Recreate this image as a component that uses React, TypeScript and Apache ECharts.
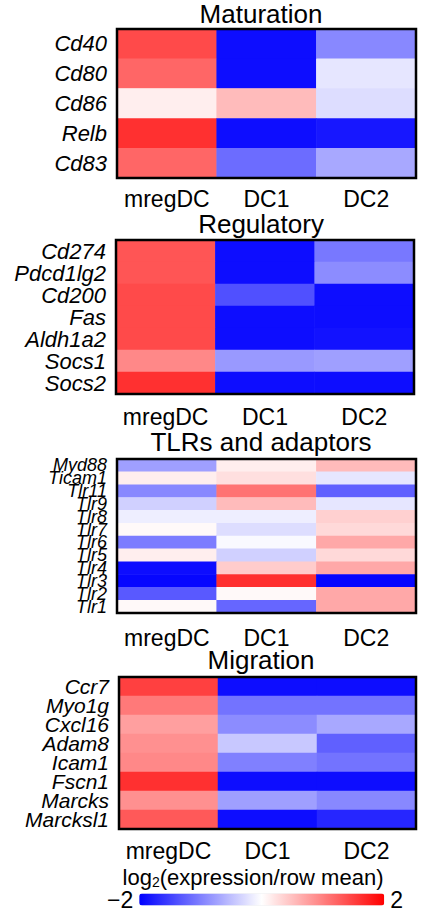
import React, { useEffect, useRef } from "react";
import * as echarts from "echarts";

const cellTypes = ["mregDC", "DC1", "DC2"];

const maturationGenes = ["Cd40", "Cd80", "Cd86", "Relb", "Cd83"];
const maturationValues = [
  [1.42, -1.9, -0.93],
  [1.2, -1.9, -0.2],
  [0.13, 0.53, -0.27],
  [1.62, -1.9, -1.82],
  [1.2, -1.15, -0.68],
];

const regulatoryGenes = ["Cd274", "Pdcd1lg2", "Cd200", "Fas", "Aldh1a2", "Socs1", "Socs2"];
const regulatoryValues = [
  [1.33, -1.9, -1.06],
  [1.33, -1.9, -0.9],
  [1.42, -1.37, -1.9],
  [1.42, -1.9, -1.9],
  [1.42, -1.9, -1.86],
  [0.93, -0.8, -0.75],
  [1.62, -1.9, -1.9],
];

const tlrGenes = ["Myd88", "Ticam1", "Tlr11", "Tlr9", "Tlr8", "Tlr7", "Tlr6", "Tlr5", "Tlr4", "Tlr3", "Tlr2", "Tlr1"];
const tlrValues = [
  [-0.75, 0.13, 0.53],
  [0.13, 0.25, -0.2],
  [-0.93, 1.1, -1.25],
  [-0.37, 0.53, -0.2],
  [-0.13, -0.13, 0.37],
  [0.05, -0.27, 0.3],
  [-1.03, -0.05, 0.68],
  [0.13, -0.37, 0.3],
  [-1.9, 0.4, 0.68],
  [-1.95, 1.62, -1.95],
  [-1.3, 0.05, 0.68],
  [0.05, -1.2, 0.68],
];

const migrationGenes = ["Ccr7", "Myo1g", "Cxcl16", "Adam8", "Icam1", "Fscn1", "Marcks", "Marcksl1"];
const migrationValues = [
  [1.5, -1.9, -1.9],
  [1.05, -1.1, -1.1],
  [0.75, -0.9, -0.68],
  [0.87, -0.43, -1.25],
  [0.93, -1.0, -1.1],
  [1.62, -1.9, -1.9],
  [0.87, -0.75, -0.93],
  [1.3, -1.9, -1.7],
];

const panelTitles = ["Maturation", "Regulatory", "TLRs and adaptors", "Migration"];
const colorMin = -2;
const colorMax = 2;

const FONT = "'Liberation Sans', Arial, Helvetica, sans-serif";

export default function App() {
  const ref = useRef<HTMLDivElement>(null);

  useEffect(() => {
    if (!ref.current) return;
    const chart = echarts.init(ref.current, null, { renderer: "svg" });

    const panels = [
      { genes: maturationGenes, values: maturationValues, grid: { left: 117, top: 29, width: 299, height: 149 }, titleTop: 1, yFont: 22, xMargin: 9 },
      { genes: regulatoryGenes, values: regulatoryValues, grid: { left: 116, top: 240, width: 298, height: 154 }, titleTop: 211, yFont: 22, xMargin: 11 },
      { genes: tlrGenes, values: tlrValues, grid: { left: 117, top: 459, width: 299, height: 154 }, titleTop: 429, yFont: 18, xMargin: 13 },
      { genes: migrationGenes, values: migrationValues, grid: { left: 119, top: 677, width: 297, height: 152 }, titleTop: 647, yFont: 21, xMargin: 10 },
    ];

    const toData = (values: number[][]) => {
      const out: [number, number, number][] = [];
      values.forEach((row, yi) => row.forEach((v, xi) => out.push([xi, yi, v])));
      return out;
    };

    const option: any = {
      animation: false,
      backgroundColor: "#fff",
      title: [
        ...panels.map((p, i) => ({
          text: panelTitles[i],
          left: 261,
          top: p.titleTop,
          textAlign: "center",
          padding: 0,
          textStyle: { fontFamily: FONT, fontSize: 26, fontWeight: "normal", color: "#000" },
        })),
        {
          text: "log{sub|2}(expression/row mean)",
          left: 253,
          top: 865,
          textAlign: "center",
          padding: 0,
          textStyle: {
            fontFamily: FONT,
            fontSize: 22,
            fontWeight: "normal",
            color: "#000",
            rich: {
              sub: { fontFamily: FONT, fontSize: 14, verticalAlign: "bottom", padding: [10, 0, 0, 0], color: "#000" },
            },
          },
        },
      ],
      grid: panels.map((p) => ({ ...p.grid, containLabel: false })),
      xAxis: panels.map((p, i) => ({
        type: "category",
        gridIndex: i,
        data: cellTypes,
        axisLine: { show: false },
        axisTick: { show: false },
        splitLine: { show: false },
        axisLabel: { fontFamily: FONT, fontSize: 23, color: "#000", margin: p.xMargin, interval: 0 },
      })),
      yAxis: panels.map((p, i) => ({
        type: "category",
        gridIndex: i,
        data: p.genes,
        inverse: true,
        axisLine: { show: false },
        axisTick: { show: false },
        splitLine: { show: false },
        axisLabel: {
          fontFamily: FONT,
          fontSize: p.yFont,
          fontStyle: "italic",
          color: "#000",
          margin: 10,
          interval: 0,
        },
      })),
      visualMap: {
        type: "continuous",
        min: colorMin,
        max: colorMax,
        seriesIndex: [0, 1, 2, 3],
        orient: "horizontal",
        left: 107,
        top: 888,
        padding: 0,
        itemWidth: 12,
        itemHeight: 245,
        text: ["2", "\u22122"],
        textGap: 6,
        calculable: false,
        textStyle: { fontFamily: FONT, fontSize: 23, color: "#000" },
        inRange: { color: ["#0000ff", "#ffffff", "#ff0000"] },
      },
      series: panels.map((p, i) => ({
        type: "heatmap",
        xAxisIndex: i,
        yAxisIndex: i,
        data: toData(p.values),
        itemStyle: { borderWidth: 0 },
        emphasis: { disabled: true },
      })),
      graphic: panels.map((p) => ({
        type: "rect",
        z: 100,
        silent: true,
        shape: { x: p.grid.left, y: p.grid.top, width: p.grid.width, height: p.grid.height },
        style: { fill: "none", stroke: "#000", lineWidth: 2.5 },
      })),
    };

    chart.setOption(option);
    return () => chart.dispose();
  }, []);

  return <div ref={ref} style={{ width: 428, height: 918, position: "absolute", left: 0, top: 0 }} />;
}
